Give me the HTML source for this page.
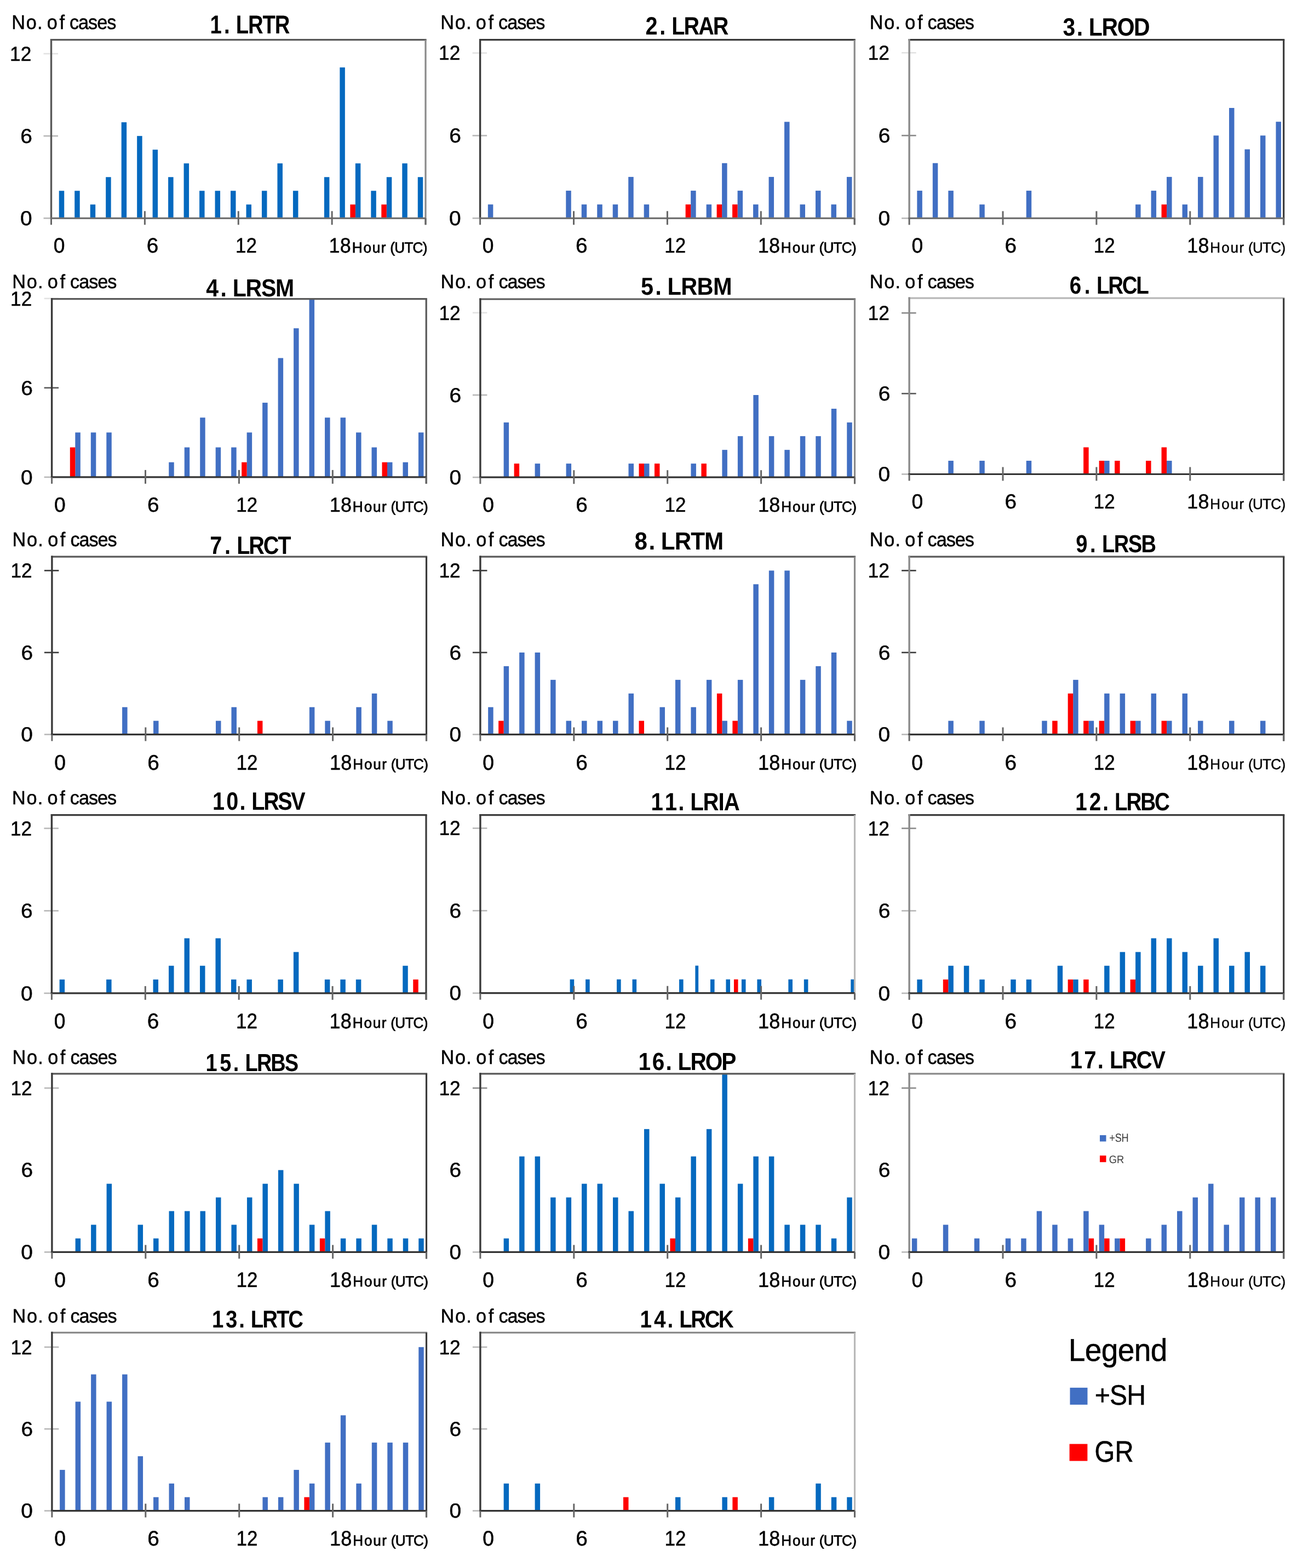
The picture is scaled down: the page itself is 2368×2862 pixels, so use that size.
<!DOCTYPE html>
<html><head><meta charset="utf-8"><title>Hourly distribution of cases</title><style>html,body{margin:0;padding:0;background:#fff;}svg{display:block;}</style></head>
<body>
<svg width="2368" height="2862" viewBox="0 0 2368 2862" text-rendering="geometricPrecision" font-family="'Liberation Sans', sans-serif">
<rect width="2368" height="2862" fill="#fff"/>
<g id="p1"><rect x="107.74" y="348.26" width="9.49" height="50.04" fill="#0569BF"/>
<rect x="136.22" y="348.26" width="9.49" height="50.04" fill="#0569BF"/>
<rect x="164.70" y="373.28" width="9.49" height="25.02" fill="#0569BF"/>
<rect x="193.18" y="323.24" width="9.49" height="75.06" fill="#0569BF"/>
<rect x="221.66" y="223.16" width="9.49" height="175.14" fill="#0569BF"/>
<rect x="250.14" y="248.18" width="9.49" height="150.12" fill="#0569BF"/>
<rect x="278.61" y="273.20" width="9.49" height="125.10" fill="#0569BF"/>
<rect x="307.09" y="323.24" width="9.49" height="75.06" fill="#0569BF"/>
<rect x="335.57" y="298.22" width="9.49" height="100.08" fill="#0569BF"/>
<rect x="364.05" y="348.26" width="9.49" height="50.04" fill="#0569BF"/>
<rect x="392.53" y="348.26" width="9.49" height="50.04" fill="#0569BF"/>
<rect x="421.01" y="348.26" width="9.49" height="50.04" fill="#0569BF"/>
<rect x="449.49" y="373.28" width="9.49" height="25.02" fill="#0569BF"/>
<rect x="477.97" y="348.26" width="9.49" height="50.04" fill="#0569BF"/>
<rect x="506.45" y="298.22" width="9.49" height="100.08" fill="#0569BF"/>
<rect x="534.93" y="348.26" width="9.49" height="50.04" fill="#0569BF"/>
<rect x="591.89" y="323.24" width="9.49" height="75.06" fill="#0569BF"/>
<rect x="620.36" y="123.08" width="9.49" height="275.22" fill="#0569BF"/>
<rect x="648.84" y="298.22" width="9.49" height="100.08" fill="#0569BF"/>
<rect x="677.32" y="348.26" width="9.49" height="50.04" fill="#0569BF"/>
<rect x="705.80" y="323.24" width="9.49" height="75.06" fill="#0569BF"/>
<rect x="734.28" y="298.22" width="9.49" height="100.08" fill="#0569BF"/>
<rect x="762.76" y="323.24" width="9.49" height="75.06" fill="#0569BF"/>
<rect x="639.35" y="373.28" width="9.49" height="25.02" fill="#FF0000"/>
<rect x="696.31" y="373.28" width="9.49" height="25.02" fill="#FF0000"/>
<line x1="79.50" y1="248.18" x2="106.00" y2="248.18" stroke="#b8b8b8" stroke-width="2.6"/>
<line x1="79.50" y1="98.06" x2="106.00" y2="98.06" stroke="#e2e2e2" stroke-width="2.6"/>
<line x1="79.50" y1="398.30" x2="93.50" y2="398.30" stroke="#b8b8b8" stroke-width="2.6"/>
<line x1="91.90" y1="72.70" x2="778.60" y2="72.70" stroke="#595959" stroke-width="3.2"/>
<line x1="777.00" y1="72.70" x2="777.00" y2="410.30" stroke="#8a8a8a" stroke-width="3.2"/>
<line x1="93.50" y1="71.10" x2="93.50" y2="398.30" stroke="#595959" stroke-width="3.4"/>
<line x1="91.80" y1="398.30" x2="777.00" y2="398.30" stroke="#727272" stroke-width="3.2"/>
<line x1="93.50" y1="398.30" x2="93.50" y2="410.30" stroke="#666" stroke-width="3"/>
<line x1="264.38" y1="385.30" x2="264.38" y2="410.30" stroke="#666" stroke-width="3"/>
<line x1="435.25" y1="385.30" x2="435.25" y2="410.30" stroke="#666" stroke-width="3"/>
<line x1="606.12" y1="385.30" x2="606.12" y2="410.30" stroke="#666" stroke-width="3"/>
<line x1="777.00" y1="398.30" x2="777.00" y2="410.30" stroke="#666" stroke-width="3"/>
<text transform="scale(0.94599,1)" x="22.40 50.43 71.79 81.85 90.63 114.65 124.70 134.24 151.22 170.31 187.32 206.36" y="53.30" font-size="36.19" font-weight="normal" fill="#000" stroke="#000" stroke-width="0.529">No. of cases</text>
<text transform="scale(0.81389,1)" x="471.17 502.58 515.67 529.24 556.55 589.16 616.43" y="60.60" font-size="47.09" font-weight="bold" fill="#000">1. LRTR</text>
<text transform="scale(0.95507,1)" x="18.86 39.43" y="110.76" font-size="36.92" font-weight="normal" fill="#000" stroke="#000" stroke-width="0.524">12</text>
<text transform="scale(1.05662,1)" x="35.22" y="260.88" font-size="36.92" font-weight="normal" fill="#000" stroke="#000" stroke-width="0.473">6</text>
<text transform="scale(1.05392,1)" x="35.09" y="411.00" font-size="36.92" font-weight="normal" fill="#000" stroke="#000" stroke-width="0.474">0</text>
<text transform="scale(0.97779,1)" x="100.01" y="461.20" font-size="38.08" font-weight="normal" fill="#000" stroke="#000" stroke-width="0.511">0</text>
<text transform="scale(1.01866,1)" x="262.94" y="461.20" font-size="38.08" font-weight="normal" fill="#000" stroke="#000" stroke-width="0.491">6</text>
<text transform="scale(0.91793,1)" x="468.48 489.70" y="461.20" font-size="38.08" font-weight="normal" fill="#000" stroke="#000" stroke-width="0.545">12</text>
<text transform="scale(0.94673,1)" x="634.41 655.71" y="461.20" font-size="38.08" font-weight="normal" fill="#000" stroke="#000" stroke-width="0.528">18</text>
<text transform="scale(0.97705,1)" x="657.75 679.13 695.80 712.20 721.11 729.00 737.28 755.76 771.25 789.95" y="461.30" font-size="26.74" font-weight="normal" fill="#000" stroke="#000" stroke-width="0.768">Hour (UTC)</text></g>
<g id="p2"><rect x="890.84" y="373.17" width="9.49" height="25.13" fill="#416FC3"/>
<rect x="1033.26" y="348.04" width="9.49" height="50.26" fill="#416FC3"/>
<rect x="1061.74" y="373.17" width="9.49" height="25.13" fill="#416FC3"/>
<rect x="1090.22" y="373.17" width="9.49" height="25.13" fill="#416FC3"/>
<rect x="1118.71" y="373.17" width="9.49" height="25.13" fill="#416FC3"/>
<rect x="1147.19" y="322.91" width="9.49" height="75.39" fill="#416FC3"/>
<rect x="1175.67" y="373.17" width="9.49" height="25.13" fill="#416FC3"/>
<rect x="1261.12" y="348.04" width="9.49" height="50.26" fill="#416FC3"/>
<rect x="1289.61" y="373.17" width="9.49" height="25.13" fill="#416FC3"/>
<rect x="1318.09" y="297.78" width="9.49" height="100.52" fill="#416FC3"/>
<rect x="1346.58" y="348.04" width="9.49" height="50.26" fill="#416FC3"/>
<rect x="1375.06" y="373.17" width="9.49" height="25.13" fill="#416FC3"/>
<rect x="1403.54" y="322.91" width="9.49" height="75.39" fill="#416FC3"/>
<rect x="1432.03" y="222.39" width="9.49" height="175.91" fill="#416FC3"/>
<rect x="1460.51" y="373.17" width="9.49" height="25.13" fill="#416FC3"/>
<rect x="1488.99" y="348.04" width="9.49" height="50.26" fill="#416FC3"/>
<rect x="1517.47" y="373.17" width="9.49" height="25.13" fill="#416FC3"/>
<rect x="1545.96" y="322.91" width="9.49" height="75.39" fill="#416FC3"/>
<rect x="1251.63" y="373.17" width="9.49" height="25.13" fill="#FF0000"/>
<rect x="1308.60" y="373.17" width="9.49" height="25.13" fill="#FF0000"/>
<rect x="1337.08" y="373.17" width="9.49" height="25.13" fill="#FF0000"/>
<line x1="862.60" y1="247.52" x2="889.10" y2="247.52" stroke="#b8b8b8" stroke-width="2.6"/>
<line x1="862.60" y1="96.74" x2="889.10" y2="96.74" stroke="#e2e2e2" stroke-width="2.6"/>
<line x1="862.60" y1="398.30" x2="876.60" y2="398.30" stroke="#b8b8b8" stroke-width="2.6"/>
<line x1="875.00" y1="72.70" x2="1561.80" y2="72.70" stroke="#3a3a3a" stroke-width="3.2"/>
<line x1="1560.20" y1="72.70" x2="1560.20" y2="410.30" stroke="#8a8a8a" stroke-width="3.2"/>
<line x1="876.60" y1="71.10" x2="876.60" y2="398.30" stroke="#3a3a3a" stroke-width="3.4"/>
<line x1="874.90" y1="398.30" x2="1560.20" y2="398.30" stroke="#727272" stroke-width="3.2"/>
<line x1="876.60" y1="398.30" x2="876.60" y2="410.30" stroke="#666" stroke-width="3"/>
<line x1="1047.50" y1="385.30" x2="1047.50" y2="410.30" stroke="#666" stroke-width="3"/>
<line x1="1218.40" y1="385.30" x2="1218.40" y2="410.30" stroke="#666" stroke-width="3"/>
<line x1="1389.30" y1="385.30" x2="1389.30" y2="410.30" stroke="#666" stroke-width="3"/>
<line x1="1560.20" y1="398.30" x2="1560.20" y2="410.30" stroke="#666" stroke-width="3"/>
<text transform="scale(0.94599,1)" x="850.21 878.24 899.60 909.66 918.43 942.45 952.51 962.04 979.03 998.12 1015.12 1034.17" y="53.30" font-size="36.19" font-weight="normal" fill="#000" stroke="#000" stroke-width="0.529">No. of cases</text>
<text transform="scale(0.86563,1)" x="1361.46 1391.31 1404.04 1416.59 1442.35 1473.13 1503.74" y="63.40" font-size="45.79" font-weight="bold" fill="#000">2. LRAR</text>
<text transform="scale(0.95507,1)" x="838.80 859.37" y="109.44" font-size="36.92" font-weight="normal" fill="#000" stroke="#000" stroke-width="0.524">12</text>
<text transform="scale(1.05662,1)" x="776.36" y="260.22" font-size="36.92" font-weight="normal" fill="#000" stroke="#000" stroke-width="0.473">6</text>
<text transform="scale(1.05392,1)" x="778.12" y="411.00" font-size="36.92" font-weight="normal" fill="#000" stroke="#000" stroke-width="0.474">0</text>
<text transform="scale(0.97779,1)" x="900.89" y="461.20" font-size="38.08" font-weight="normal" fill="#000" stroke="#000" stroke-width="0.511">0</text>
<text transform="scale(1.01866,1)" x="1031.72" y="461.20" font-size="38.08" font-weight="normal" fill="#000" stroke="#000" stroke-width="0.491">6</text>
<text transform="scale(0.91793,1)" x="1321.65 1342.87" y="461.20" font-size="38.08" font-weight="normal" fill="#000" stroke="#000" stroke-width="0.545">12</text>
<text transform="scale(0.94673,1)" x="1461.66 1482.96" y="461.20" font-size="38.08" font-weight="normal" fill="#000" stroke="#000" stroke-width="0.528">18</text>
<text transform="scale(0.97705,1)" x="1459.34 1480.73 1497.40 1513.79 1522.70 1530.59 1538.87 1557.35 1572.84 1591.54" y="461.30" font-size="26.74" font-weight="normal" fill="#000" stroke="#000" stroke-width="0.768">Hour (UTC)</text></g>
<g id="p3"><rect x="1674.34" y="348.06" width="9.49" height="50.34" fill="#416FC3"/>
<rect x="1702.82" y="297.72" width="9.49" height="100.68" fill="#416FC3"/>
<rect x="1731.31" y="348.06" width="9.49" height="50.34" fill="#416FC3"/>
<rect x="1788.27" y="373.23" width="9.49" height="25.17" fill="#416FC3"/>
<rect x="1873.72" y="348.06" width="9.49" height="50.34" fill="#416FC3"/>
<rect x="2073.11" y="373.23" width="9.49" height="25.17" fill="#416FC3"/>
<rect x="2101.59" y="348.06" width="9.49" height="50.34" fill="#416FC3"/>
<rect x="2130.07" y="322.89" width="9.49" height="75.51" fill="#416FC3"/>
<rect x="2158.56" y="373.23" width="9.49" height="25.17" fill="#416FC3"/>
<rect x="2187.04" y="322.89" width="9.49" height="75.51" fill="#416FC3"/>
<rect x="2215.52" y="247.38" width="9.49" height="151.02" fill="#416FC3"/>
<rect x="2244.01" y="197.04" width="9.49" height="201.36" fill="#416FC3"/>
<rect x="2272.49" y="272.55" width="9.49" height="125.85" fill="#416FC3"/>
<rect x="2300.97" y="247.38" width="9.49" height="151.02" fill="#416FC3"/>
<rect x="2329.46" y="222.21" width="9.49" height="176.19" fill="#416FC3"/>
<rect x="2120.58" y="373.23" width="9.49" height="25.17" fill="#FF0000"/>
<line x1="1646.10" y1="247.38" x2="1672.60" y2="247.38" stroke="#8a8a8a" stroke-width="2.6"/>
<line x1="1646.10" y1="96.36" x2="1672.60" y2="96.36" stroke="#e2e2e2" stroke-width="2.6"/>
<line x1="1646.10" y1="398.40" x2="1660.10" y2="398.40" stroke="#b8b8b8" stroke-width="2.6"/>
<line x1="1658.50" y1="72.70" x2="2345.30" y2="72.70" stroke="#3a3a3a" stroke-width="3.2"/>
<line x1="2343.70" y1="72.70" x2="2343.70" y2="410.40" stroke="#3a3a3a" stroke-width="3.2"/>
<line x1="1660.10" y1="71.10" x2="1660.10" y2="398.40" stroke="#8a8a8a" stroke-width="3.4"/>
<line x1="1658.40" y1="398.40" x2="2343.70" y2="398.40" stroke="#727272" stroke-width="3.2"/>
<line x1="1660.10" y1="398.40" x2="1660.10" y2="410.40" stroke="#666" stroke-width="3"/>
<line x1="1831.00" y1="385.40" x2="1831.00" y2="410.40" stroke="#666" stroke-width="3"/>
<line x1="2001.90" y1="385.40" x2="2001.90" y2="410.40" stroke="#666" stroke-width="3"/>
<line x1="2172.80" y1="385.40" x2="2172.80" y2="410.40" stroke="#666" stroke-width="3"/>
<line x1="2343.70" y1="398.40" x2="2343.70" y2="410.40" stroke="#666" stroke-width="3"/>
<text transform="scale(0.94599,1)" x="1678.44 1706.47 1727.83 1737.89 1746.66 1770.68 1780.74 1790.27 1807.26 1826.35 1843.35 1862.40" y="53.30" font-size="36.19" font-weight="normal" fill="#000" stroke="#000" stroke-width="0.529">No. of cases</text>
<text transform="scale(0.89558,1)" x="2166.70 2194.83 2207.55 2219.60 2246.05 2277.47 2311.36" y="64.50" font-size="45.79" font-weight="bold" fill="#000">3. LROD</text>
<text transform="scale(0.95507,1)" x="1659.15 1679.73" y="109.06" font-size="36.92" font-weight="normal" fill="#000" stroke="#000" stroke-width="0.524">12</text>
<text transform="scale(1.05662,1)" x="1517.88" y="260.08" font-size="36.92" font-weight="normal" fill="#000" stroke="#000" stroke-width="0.473">6</text>
<text transform="scale(1.05392,1)" x="1521.54" y="411.10" font-size="36.92" font-weight="normal" fill="#000" stroke="#000" stroke-width="0.474">0</text>
<text transform="scale(0.97779,1)" x="1702.19" y="461.30" font-size="38.08" font-weight="normal" fill="#000" stroke="#000" stroke-width="0.511">0</text>
<text transform="scale(1.01866,1)" x="1800.86" y="461.30" font-size="38.08" font-weight="normal" fill="#000" stroke="#000" stroke-width="0.491">6</text>
<text transform="scale(0.91793,1)" x="2175.20 2196.42" y="461.30" font-size="38.08" font-weight="normal" fill="#000" stroke="#000" stroke-width="0.545">12</text>
<text transform="scale(0.94673,1)" x="2289.24 2310.54" y="461.30" font-size="38.08" font-weight="normal" fill="#000" stroke="#000" stroke-width="0.528">18</text>
<text transform="scale(0.97705,1)" x="2261.25 2282.63 2299.30 2315.69 2324.60 2332.50 2340.77 2359.25 2374.75 2393.44" y="461.40" font-size="26.74" font-weight="normal" fill="#000" stroke="#000" stroke-width="0.461">Hour (UTC)</text></g>
<g id="p4"><rect x="137.32" y="789.39" width="9.49" height="81.51" fill="#416FC3"/>
<rect x="165.81" y="789.39" width="9.49" height="81.51" fill="#416FC3"/>
<rect x="194.29" y="789.39" width="9.49" height="81.51" fill="#416FC3"/>
<rect x="308.23" y="843.73" width="9.49" height="27.17" fill="#416FC3"/>
<rect x="336.71" y="816.56" width="9.49" height="54.34" fill="#416FC3"/>
<rect x="365.19" y="762.22" width="9.49" height="108.68" fill="#416FC3"/>
<rect x="393.67" y="816.56" width="9.49" height="54.34" fill="#416FC3"/>
<rect x="422.16" y="816.56" width="9.49" height="54.34" fill="#416FC3"/>
<rect x="450.64" y="789.39" width="9.49" height="81.51" fill="#416FC3"/>
<rect x="479.12" y="735.05" width="9.49" height="135.85" fill="#416FC3"/>
<rect x="507.61" y="653.54" width="9.49" height="217.36" fill="#416FC3"/>
<rect x="536.09" y="599.20" width="9.49" height="271.70" fill="#416FC3"/>
<rect x="564.58" y="544.86" width="9.49" height="326.04" fill="#416FC3"/>
<rect x="593.06" y="762.22" width="9.49" height="108.68" fill="#416FC3"/>
<rect x="621.54" y="762.22" width="9.49" height="108.68" fill="#416FC3"/>
<rect x="650.03" y="789.39" width="9.49" height="81.51" fill="#416FC3"/>
<rect x="678.51" y="816.56" width="9.49" height="54.34" fill="#416FC3"/>
<rect x="706.99" y="843.73" width="9.49" height="27.17" fill="#416FC3"/>
<rect x="735.48" y="843.73" width="9.49" height="27.17" fill="#416FC3"/>
<rect x="763.96" y="789.39" width="9.49" height="81.51" fill="#416FC3"/>
<rect x="127.83" y="816.56" width="9.49" height="54.34" fill="#FF0000"/>
<rect x="441.15" y="843.73" width="9.49" height="27.17" fill="#FF0000"/>
<rect x="697.50" y="843.73" width="9.49" height="27.17" fill="#FF0000"/>
<line x1="80.60" y1="707.88" x2="107.10" y2="707.88" stroke="#595959" stroke-width="2.6"/>
<line x1="80.60" y1="544.86" x2="107.10" y2="544.86" stroke="#e2e2e2" stroke-width="2.6"/>
<line x1="80.60" y1="870.90" x2="94.60" y2="870.90" stroke="#b8b8b8" stroke-width="2.6"/>
<line x1="93.00" y1="545.60" x2="779.80" y2="545.60" stroke="#595959" stroke-width="3.2"/>
<line x1="778.20" y1="545.60" x2="778.20" y2="882.90" stroke="#595959" stroke-width="3.2"/>
<line x1="94.60" y1="544.00" x2="94.60" y2="870.90" stroke="#3a3a3a" stroke-width="3.4"/>
<line x1="92.90" y1="870.90" x2="778.20" y2="870.90" stroke="#333333" stroke-width="3.2"/>
<line x1="94.60" y1="870.90" x2="94.60" y2="882.90" stroke="#666" stroke-width="3"/>
<line x1="265.50" y1="857.90" x2="265.50" y2="882.90" stroke="#666" stroke-width="3"/>
<line x1="436.40" y1="857.90" x2="436.40" y2="882.90" stroke="#666" stroke-width="3"/>
<line x1="607.30" y1="857.90" x2="607.30" y2="882.90" stroke="#666" stroke-width="3"/>
<line x1="778.20" y1="870.90" x2="778.20" y2="882.90" stroke="#666" stroke-width="3"/>
<text transform="scale(0.97336,1)" x="22.90 50.14 70.90 80.68 89.21 112.55 122.33 131.59 148.10 166.65 183.18 201.69" y="526.30" font-size="35.18" font-weight="normal" fill="#000" stroke="#000" stroke-width="0.514">No. of cases</text>
<text transform="scale(0.90690,1)" x="414.80 443.80 456.36 468.26 494.61 526.00 554.74" y="541.00" font-size="45.20" font-weight="bold" fill="#000">4. LRSM</text>
<text transform="scale(0.95507,1)" x="20.01 40.59" y="557.56" font-size="36.92" font-weight="normal" fill="#000" stroke="#000" stroke-width="0.524">12</text>
<text transform="scale(1.05662,1)" x="36.27" y="720.58" font-size="36.92" font-weight="normal" fill="#000" stroke="#000" stroke-width="0.473">6</text>
<text transform="scale(1.05392,1)" x="36.13" y="883.60" font-size="36.92" font-weight="normal" fill="#000" stroke="#000" stroke-width="0.474">0</text>
<text transform="scale(1.00071,1)" x="98.82" y="933.80" font-size="37.21" font-weight="normal" fill="#000" stroke="#000" stroke-width="0.500">0</text>
<text transform="scale(1.04254,1)" x="258.00" y="933.80" font-size="37.21" font-weight="normal" fill="#000" stroke="#000" stroke-width="0.480">6</text>
<text transform="scale(0.93944,1)" x="458.97 479.71" y="933.80" font-size="37.21" font-weight="normal" fill="#000" stroke="#000" stroke-width="0.532">12</text>
<text transform="scale(0.96892,1)" x="621.10 641.91" y="933.80" font-size="37.21" font-weight="normal" fill="#000" stroke="#000" stroke-width="0.516">18</text>
<text transform="scale(0.97705,1)" x="658.98 680.36 697.03 713.43 722.33 730.23 738.51 756.99 772.48 791.17" y="933.90" font-size="26.74" font-weight="normal" fill="#000" stroke="#000" stroke-width="0.768">Hour (UTC)</text></g>
<g id="p5"><rect x="919.62" y="771.08" width="9.49" height="100.12" fill="#416FC3"/>
<rect x="976.59" y="846.17" width="9.49" height="25.03" fill="#416FC3"/>
<rect x="1033.56" y="846.17" width="9.49" height="25.03" fill="#416FC3"/>
<rect x="1147.49" y="846.17" width="9.49" height="25.03" fill="#416FC3"/>
<rect x="1175.97" y="846.17" width="9.49" height="25.03" fill="#416FC3"/>
<rect x="1261.42" y="846.17" width="9.49" height="25.03" fill="#416FC3"/>
<rect x="1318.39" y="821.14" width="9.49" height="50.06" fill="#416FC3"/>
<rect x="1346.88" y="796.11" width="9.49" height="75.09" fill="#416FC3"/>
<rect x="1375.36" y="721.02" width="9.49" height="150.18" fill="#416FC3"/>
<rect x="1403.84" y="796.11" width="9.49" height="75.09" fill="#416FC3"/>
<rect x="1432.33" y="821.14" width="9.49" height="50.06" fill="#416FC3"/>
<rect x="1460.81" y="796.11" width="9.49" height="75.09" fill="#416FC3"/>
<rect x="1489.29" y="796.11" width="9.49" height="75.09" fill="#416FC3"/>
<rect x="1517.78" y="746.05" width="9.49" height="125.15" fill="#416FC3"/>
<rect x="1546.26" y="771.08" width="9.49" height="100.12" fill="#416FC3"/>
<rect x="938.61" y="846.17" width="9.49" height="25.03" fill="#FF0000"/>
<rect x="1166.48" y="846.17" width="9.49" height="25.03" fill="#FF0000"/>
<rect x="1194.96" y="846.17" width="9.49" height="25.03" fill="#FF0000"/>
<rect x="1280.41" y="846.17" width="9.49" height="25.03" fill="#FF0000"/>
<line x1="862.90" y1="721.02" x2="889.40" y2="721.02" stroke="#b8b8b8" stroke-width="2.6"/>
<line x1="862.90" y1="570.84" x2="889.40" y2="570.84" stroke="#e2e2e2" stroke-width="2.6"/>
<line x1="862.90" y1="871.20" x2="876.90" y2="871.20" stroke="#b8b8b8" stroke-width="2.6"/>
<line x1="875.30" y1="546.00" x2="1562.10" y2="546.00" stroke="#595959" stroke-width="3.2"/>
<line x1="1560.50" y1="546.00" x2="1560.50" y2="883.20" stroke="#8a8a8a" stroke-width="3.2"/>
<line x1="876.90" y1="544.40" x2="876.90" y2="871.20" stroke="#3a3a3a" stroke-width="3.4"/>
<line x1="875.20" y1="871.20" x2="1560.50" y2="871.20" stroke="#333333" stroke-width="3.2"/>
<line x1="876.90" y1="871.20" x2="876.90" y2="883.20" stroke="#666" stroke-width="3"/>
<line x1="1047.80" y1="858.20" x2="1047.80" y2="883.20" stroke="#666" stroke-width="3"/>
<line x1="1218.70" y1="858.20" x2="1218.70" y2="883.20" stroke="#666" stroke-width="3"/>
<line x1="1389.60" y1="858.20" x2="1389.60" y2="883.20" stroke="#666" stroke-width="3"/>
<line x1="1560.50" y1="871.20" x2="1560.50" y2="883.20" stroke="#666" stroke-width="3"/>
<text transform="scale(0.97336,1)" x="826.62 853.86 874.62 884.39 892.92 916.27 926.04 935.31 951.81 970.37 986.89 1005.41" y="526.30" font-size="35.18" font-weight="normal" fill="#000" stroke="#000" stroke-width="0.514">No. of cases</text>
<text transform="scale(0.92782,1)" x="1261.15 1289.28 1301.72 1313.42 1340.06 1371.64 1403.16" y="538.00" font-size="44.77" font-weight="bold" fill="#000">5. LRBM</text>
<text transform="scale(0.95507,1)" x="839.11 859.69" y="583.54" font-size="36.92" font-weight="normal" fill="#000" stroke="#000" stroke-width="0.524">12</text>
<text transform="scale(1.05662,1)" x="776.65" y="733.72" font-size="36.92" font-weight="normal" fill="#000" stroke="#000" stroke-width="0.473">6</text>
<text transform="scale(1.05392,1)" x="778.41" y="883.90" font-size="36.92" font-weight="normal" fill="#000" stroke="#000" stroke-width="0.474">0</text>
<text transform="scale(1.00071,1)" x="880.56" y="934.10" font-size="37.21" font-weight="normal" fill="#000" stroke="#000" stroke-width="0.500">0</text>
<text transform="scale(1.04254,1)" x="1008.38" y="934.10" font-size="37.21" font-weight="normal" fill="#000" stroke="#000" stroke-width="0.480">6</text>
<text transform="scale(0.93944,1)" x="1291.70 1312.44" y="934.10" font-size="37.21" font-weight="normal" fill="#000" stroke="#000" stroke-width="0.532">12</text>
<text transform="scale(0.96892,1)" x="1428.50 1449.30" y="934.10" font-size="37.21" font-weight="normal" fill="#000" stroke="#000" stroke-width="0.516">18</text>
<text transform="scale(0.97705,1)" x="1459.65 1481.03 1497.70 1514.10 1523.01 1530.90 1539.18 1557.66 1573.15 1591.85" y="934.20" font-size="26.74" font-weight="normal" fill="#000" stroke="#000" stroke-width="0.768">Hour (UTC)</text></g>
<g id="p6"><rect x="1731.31" y="840.98" width="9.49" height="24.52" fill="#416FC3"/>
<rect x="1788.27" y="840.98" width="9.49" height="24.52" fill="#416FC3"/>
<rect x="1873.72" y="840.98" width="9.49" height="24.52" fill="#416FC3"/>
<rect x="2016.14" y="840.98" width="9.49" height="24.52" fill="#416FC3"/>
<rect x="2130.07" y="840.98" width="9.49" height="24.52" fill="#416FC3"/>
<rect x="1978.16" y="816.46" width="9.49" height="49.04" fill="#FF0000"/>
<rect x="2006.65" y="840.98" width="9.49" height="24.52" fill="#FF0000"/>
<rect x="2035.13" y="840.98" width="9.49" height="24.52" fill="#FF0000"/>
<rect x="2092.10" y="840.98" width="9.49" height="24.52" fill="#FF0000"/>
<rect x="2120.58" y="816.46" width="9.49" height="49.04" fill="#FF0000"/>
<line x1="1646.10" y1="718.38" x2="1672.60" y2="718.38" stroke="#595959" stroke-width="2.6"/>
<line x1="1646.10" y1="571.26" x2="1672.60" y2="571.26" stroke="#8a8a8a" stroke-width="2.6"/>
<line x1="1646.10" y1="865.50" x2="1660.10" y2="865.50" stroke="#b8b8b8" stroke-width="2.6"/>
<line x1="1658.50" y1="544.20" x2="2345.30" y2="544.20" stroke="#b8b8b8" stroke-width="3.2"/>
<line x1="2343.70" y1="544.20" x2="2343.70" y2="877.50" stroke="#3a3a3a" stroke-width="3.2"/>
<line x1="1660.10" y1="542.60" x2="1660.10" y2="865.50" stroke="#8a8a8a" stroke-width="3.4"/>
<line x1="1658.40" y1="865.50" x2="2343.70" y2="865.50" stroke="#333333" stroke-width="3.2"/>
<line x1="1660.10" y1="865.50" x2="1660.10" y2="877.50" stroke="#666" stroke-width="3"/>
<line x1="1831.00" y1="852.50" x2="1831.00" y2="877.50" stroke="#666" stroke-width="3"/>
<line x1="2001.90" y1="852.50" x2="2001.90" y2="877.50" stroke="#666" stroke-width="3"/>
<line x1="2172.80" y1="852.50" x2="2172.80" y2="877.50" stroke="#666" stroke-width="3"/>
<line x1="2343.70" y1="865.50" x2="2343.70" y2="877.50" stroke="#666" stroke-width="3"/>
<text transform="scale(0.97336,1)" x="1631.25 1658.49 1679.26 1689.03 1697.56 1720.91 1730.68 1739.94 1756.45 1775.01 1791.53 1810.04" y="526.30" font-size="35.18" font-weight="normal" fill="#000" stroke="#000" stroke-width="0.514">No. of cases</text>
<text transform="scale(0.85868,1)" x="2274.06 2305.53 2318.05 2331.38 2356.21 2385.93 2415.76" y="535.90" font-size="45.06" font-weight="bold" fill="#000">6. LRCL</text>
<text transform="scale(0.95507,1)" x="1659.15 1679.73" y="583.96" font-size="36.92" font-weight="normal" fill="#000" stroke="#000" stroke-width="0.524">12</text>
<text transform="scale(1.05662,1)" x="1517.88" y="731.08" font-size="36.92" font-weight="normal" fill="#000" stroke="#000" stroke-width="0.473">6</text>
<text transform="scale(1.05392,1)" x="1521.54" y="878.20" font-size="36.92" font-weight="normal" fill="#000" stroke="#000" stroke-width="0.474">0</text>
<text transform="scale(1.00071,1)" x="1663.21" y="928.40" font-size="37.21" font-weight="normal" fill="#000" stroke="#000" stroke-width="0.500">0</text>
<text transform="scale(1.04254,1)" x="1759.62" y="928.40" font-size="37.21" font-weight="normal" fill="#000" stroke="#000" stroke-width="0.480">6</text>
<text transform="scale(0.93944,1)" x="2125.39 2146.12" y="928.40" font-size="37.21" font-weight="normal" fill="#000" stroke="#000" stroke-width="0.532">12</text>
<text transform="scale(0.96892,1)" x="2236.82 2257.63" y="928.40" font-size="37.21" font-weight="normal" fill="#000" stroke="#000" stroke-width="0.516">18</text>
<text transform="scale(0.97705,1)" x="2261.25 2282.63 2299.30 2315.69 2324.60 2332.50 2340.77 2359.25 2374.75 2393.44" y="928.50" font-size="26.74" font-weight="normal" fill="#000" stroke="#000" stroke-width="0.461">Hour (UTC)</text></g>
<g id="p7"><rect x="223.08" y="1290.74" width="9.49" height="49.86" fill="#416FC3"/>
<rect x="280.04" y="1315.67" width="9.49" height="24.93" fill="#416FC3"/>
<rect x="393.98" y="1315.67" width="9.49" height="24.93" fill="#416FC3"/>
<rect x="422.46" y="1290.74" width="9.49" height="49.86" fill="#416FC3"/>
<rect x="564.88" y="1290.74" width="9.49" height="49.86" fill="#416FC3"/>
<rect x="593.36" y="1315.67" width="9.49" height="24.93" fill="#416FC3"/>
<rect x="650.33" y="1290.74" width="9.49" height="49.86" fill="#416FC3"/>
<rect x="678.81" y="1265.81" width="9.49" height="74.79" fill="#416FC3"/>
<rect x="707.29" y="1315.67" width="9.49" height="24.93" fill="#416FC3"/>
<rect x="469.93" y="1315.67" width="9.49" height="24.93" fill="#FF0000"/>
<line x1="80.90" y1="1191.02" x2="107.40" y2="1191.02" stroke="#3a3a3a" stroke-width="2.6"/>
<line x1="80.90" y1="1041.44" x2="107.40" y2="1041.44" stroke="#3a3a3a" stroke-width="2.6"/>
<line x1="80.90" y1="1340.60" x2="94.90" y2="1340.60" stroke="#b8b8b8" stroke-width="2.6"/>
<line x1="93.30" y1="1016.20" x2="780.10" y2="1016.20" stroke="#595959" stroke-width="3.2"/>
<line x1="778.50" y1="1016.20" x2="778.50" y2="1352.60" stroke="#3a3a3a" stroke-width="3.2"/>
<line x1="94.90" y1="1014.60" x2="94.90" y2="1340.60" stroke="#3a3a3a" stroke-width="3.4"/>
<line x1="93.20" y1="1340.60" x2="778.50" y2="1340.60" stroke="#333333" stroke-width="3.2"/>
<line x1="94.90" y1="1340.60" x2="94.90" y2="1352.60" stroke="#666" stroke-width="3"/>
<line x1="265.80" y1="1327.60" x2="265.80" y2="1352.60" stroke="#666" stroke-width="3"/>
<line x1="436.70" y1="1327.60" x2="436.70" y2="1352.60" stroke="#666" stroke-width="3"/>
<line x1="607.60" y1="1327.60" x2="607.60" y2="1352.60" stroke="#666" stroke-width="3"/>
<line x1="778.50" y1="1340.60" x2="778.50" y2="1352.60" stroke="#666" stroke-width="3"/>
<text transform="scale(0.94599,1)" x="23.88 51.91 73.27 83.33 92.11 116.13 126.18 135.72 152.70 171.79 188.79 207.84" y="997.00" font-size="36.19" font-weight="normal" fill="#000" stroke="#000" stroke-width="0.529">No. of cases</text>
<text transform="scale(0.86695,1)" x="442.00 472.80 485.52 498.54 523.99 554.42 585.02" y="1011.00" font-size="45.79" font-weight="bold" fill="#000">7. LRCT</text>
<text transform="scale(0.95507,1)" x="20.33 40.90" y="1054.14" font-size="36.92" font-weight="normal" fill="#000" stroke="#000" stroke-width="0.524">12</text>
<text transform="scale(1.05662,1)" x="36.55" y="1203.72" font-size="36.92" font-weight="normal" fill="#000" stroke="#000" stroke-width="0.473">6</text>
<text transform="scale(1.05392,1)" x="36.42" y="1353.30" font-size="36.92" font-weight="normal" fill="#000" stroke="#000" stroke-width="0.474">0</text>
<text transform="scale(0.95948,1)" x="103.38" y="1405.20" font-size="38.81" font-weight="normal" fill="#000" stroke="#000" stroke-width="0.521">0</text>
<text transform="scale(0.99959,1)" x="269.38" y="1405.20" font-size="38.81" font-weight="normal" fill="#000" stroke="#000" stroke-width="0.500">6</text>
<text transform="scale(0.90074,1)" x="479.03 500.65" y="1405.20" font-size="38.81" font-weight="normal" fill="#000" stroke="#000" stroke-width="0.555">12</text>
<text transform="scale(0.92900,1)" x="648.11 669.81" y="1405.20" font-size="38.81" font-weight="normal" fill="#000" stroke="#000" stroke-width="0.538">18</text>
<text transform="scale(0.97705,1)" x="659.29 680.67 697.34 713.73 722.64 730.53 738.81 757.29 772.79 791.48" y="1403.60" font-size="26.74" font-weight="normal" fill="#000" stroke="#000" stroke-width="0.768">Hour (UTC)</text></g>
<g id="p8"><rect x="891.14" y="1290.74" width="9.49" height="49.86" fill="#416FC3"/>
<rect x="919.62" y="1215.95" width="9.49" height="124.65" fill="#416FC3"/>
<rect x="948.11" y="1191.02" width="9.49" height="149.58" fill="#416FC3"/>
<rect x="976.59" y="1191.02" width="9.49" height="149.58" fill="#416FC3"/>
<rect x="1005.08" y="1240.88" width="9.49" height="99.72" fill="#416FC3"/>
<rect x="1033.56" y="1315.67" width="9.49" height="24.93" fill="#416FC3"/>
<rect x="1062.04" y="1315.67" width="9.49" height="24.93" fill="#416FC3"/>
<rect x="1090.53" y="1315.67" width="9.49" height="24.93" fill="#416FC3"/>
<rect x="1119.01" y="1315.67" width="9.49" height="24.93" fill="#416FC3"/>
<rect x="1147.49" y="1265.81" width="9.49" height="74.79" fill="#416FC3"/>
<rect x="1204.46" y="1290.74" width="9.49" height="49.86" fill="#416FC3"/>
<rect x="1232.94" y="1240.88" width="9.49" height="99.72" fill="#416FC3"/>
<rect x="1261.42" y="1290.74" width="9.49" height="49.86" fill="#416FC3"/>
<rect x="1289.91" y="1240.88" width="9.49" height="99.72" fill="#416FC3"/>
<rect x="1318.39" y="1315.67" width="9.49" height="24.93" fill="#416FC3"/>
<rect x="1346.88" y="1240.88" width="9.49" height="99.72" fill="#416FC3"/>
<rect x="1375.36" y="1066.37" width="9.49" height="274.23" fill="#416FC3"/>
<rect x="1403.84" y="1041.44" width="9.49" height="299.16" fill="#416FC3"/>
<rect x="1432.33" y="1041.44" width="9.49" height="299.16" fill="#416FC3"/>
<rect x="1460.81" y="1240.88" width="9.49" height="99.72" fill="#416FC3"/>
<rect x="1489.29" y="1215.95" width="9.49" height="124.65" fill="#416FC3"/>
<rect x="1517.78" y="1191.02" width="9.49" height="149.58" fill="#416FC3"/>
<rect x="1546.26" y="1315.67" width="9.49" height="24.93" fill="#416FC3"/>
<rect x="910.13" y="1315.67" width="9.49" height="24.93" fill="#FF0000"/>
<rect x="1166.48" y="1315.67" width="9.49" height="24.93" fill="#FF0000"/>
<rect x="1308.90" y="1265.81" width="9.49" height="74.79" fill="#FF0000"/>
<rect x="1337.38" y="1315.67" width="9.49" height="24.93" fill="#FF0000"/>
<line x1="862.90" y1="1191.02" x2="889.40" y2="1191.02" stroke="#3a3a3a" stroke-width="2.6"/>
<line x1="862.90" y1="1041.44" x2="889.40" y2="1041.44" stroke="#3a3a3a" stroke-width="2.6"/>
<line x1="862.90" y1="1340.60" x2="876.90" y2="1340.60" stroke="#b8b8b8" stroke-width="2.6"/>
<line x1="875.30" y1="1016.20" x2="1562.10" y2="1016.20" stroke="#595959" stroke-width="3.2"/>
<line x1="1560.50" y1="1016.20" x2="1560.50" y2="1352.60" stroke="#8a8a8a" stroke-width="3.2"/>
<line x1="876.90" y1="1014.60" x2="876.90" y2="1340.60" stroke="#3a3a3a" stroke-width="3.4"/>
<line x1="875.20" y1="1340.60" x2="1560.50" y2="1340.60" stroke="#333333" stroke-width="3.2"/>
<line x1="876.90" y1="1340.60" x2="876.90" y2="1352.60" stroke="#666" stroke-width="3"/>
<line x1="1047.80" y1="1327.60" x2="1047.80" y2="1352.60" stroke="#666" stroke-width="3"/>
<line x1="1218.70" y1="1327.60" x2="1218.70" y2="1352.60" stroke="#666" stroke-width="3"/>
<line x1="1389.60" y1="1327.60" x2="1389.60" y2="1352.60" stroke="#666" stroke-width="3"/>
<line x1="1560.50" y1="1340.60" x2="1560.50" y2="1352.60" stroke="#666" stroke-width="3"/>
<text transform="scale(0.94599,1)" x="850.53 878.55 899.92 909.97 918.75 942.77 952.83 962.36 979.34 998.44 1015.44 1034.49" y="997.00" font-size="36.19" font-weight="normal" fill="#000" stroke="#000" stroke-width="0.529">No. of cases</text>
<text transform="scale(0.93525,1)" x="1238.77 1266.40 1278.92 1290.38 1316.94 1348.56 1375.05" y="1002.90" font-size="45.06" font-weight="bold" fill="#000">8. LRTM</text>
<text transform="scale(0.95507,1)" x="839.11 859.69" y="1054.14" font-size="36.92" font-weight="normal" fill="#000" stroke="#000" stroke-width="0.524">12</text>
<text transform="scale(1.05662,1)" x="776.65" y="1203.72" font-size="36.92" font-weight="normal" fill="#000" stroke="#000" stroke-width="0.473">6</text>
<text transform="scale(1.05392,1)" x="778.41" y="1353.30" font-size="36.92" font-weight="normal" fill="#000" stroke="#000" stroke-width="0.474">0</text>
<text transform="scale(0.95948,1)" x="918.40" y="1405.20" font-size="38.81" font-weight="normal" fill="#000" stroke="#000" stroke-width="0.521">0</text>
<text transform="scale(0.99959,1)" x="1051.71" y="1405.20" font-size="38.81" font-weight="normal" fill="#000" stroke="#000" stroke-width="0.500">6</text>
<text transform="scale(0.90074,1)" x="1347.20 1368.83" y="1405.20" font-size="38.81" font-weight="normal" fill="#000" stroke="#000" stroke-width="0.555">12</text>
<text transform="scale(0.92900,1)" x="1489.88 1511.58" y="1405.20" font-size="38.81" font-weight="normal" fill="#000" stroke="#000" stroke-width="0.538">18</text>
<text transform="scale(0.97705,1)" x="1459.65 1481.03 1497.70 1514.10 1523.01 1530.90 1539.18 1557.66 1573.15 1591.85" y="1403.60" font-size="26.74" font-weight="normal" fill="#000" stroke="#000" stroke-width="0.768">Hour (UTC)</text></g>
<g id="p9"><rect x="1731.31" y="1315.67" width="9.49" height="24.93" fill="#416FC3"/>
<rect x="1788.27" y="1315.67" width="9.49" height="24.93" fill="#416FC3"/>
<rect x="1902.21" y="1315.67" width="9.49" height="24.93" fill="#416FC3"/>
<rect x="1959.17" y="1240.88" width="9.49" height="99.72" fill="#416FC3"/>
<rect x="1987.66" y="1315.67" width="9.49" height="24.93" fill="#416FC3"/>
<rect x="2016.14" y="1265.81" width="9.49" height="74.79" fill="#416FC3"/>
<rect x="2044.62" y="1265.81" width="9.49" height="74.79" fill="#416FC3"/>
<rect x="2073.11" y="1315.67" width="9.49" height="24.93" fill="#416FC3"/>
<rect x="2101.59" y="1265.81" width="9.49" height="74.79" fill="#416FC3"/>
<rect x="2130.07" y="1315.67" width="9.49" height="24.93" fill="#416FC3"/>
<rect x="2158.56" y="1265.81" width="9.49" height="74.79" fill="#416FC3"/>
<rect x="2187.04" y="1315.67" width="9.49" height="24.93" fill="#416FC3"/>
<rect x="2244.01" y="1315.67" width="9.49" height="24.93" fill="#416FC3"/>
<rect x="2300.97" y="1315.67" width="9.49" height="24.93" fill="#416FC3"/>
<rect x="1921.20" y="1315.67" width="9.49" height="24.93" fill="#FF0000"/>
<rect x="1949.68" y="1265.81" width="9.49" height="74.79" fill="#FF0000"/>
<rect x="1978.16" y="1315.67" width="9.49" height="24.93" fill="#FF0000"/>
<rect x="2006.65" y="1315.67" width="9.49" height="24.93" fill="#FF0000"/>
<rect x="2063.61" y="1315.67" width="9.49" height="24.93" fill="#FF0000"/>
<rect x="2120.58" y="1315.67" width="9.49" height="24.93" fill="#FF0000"/>
<line x1="1646.10" y1="1191.02" x2="1672.60" y2="1191.02" stroke="#3a3a3a" stroke-width="2.6"/>
<line x1="1646.10" y1="1041.44" x2="1672.60" y2="1041.44" stroke="#3a3a3a" stroke-width="2.6"/>
<line x1="1646.10" y1="1340.60" x2="1660.10" y2="1340.60" stroke="#b8b8b8" stroke-width="2.6"/>
<line x1="1658.50" y1="1016.20" x2="2345.30" y2="1016.20" stroke="#595959" stroke-width="3.2"/>
<line x1="2343.70" y1="1016.20" x2="2343.70" y2="1352.60" stroke="#3a3a3a" stroke-width="3.2"/>
<line x1="1660.10" y1="1014.60" x2="1660.10" y2="1340.60" stroke="#8a8a8a" stroke-width="3.4"/>
<line x1="1658.40" y1="1340.60" x2="2343.70" y2="1340.60" stroke="#333333" stroke-width="3.2"/>
<line x1="1660.10" y1="1340.60" x2="1660.10" y2="1352.60" stroke="#666" stroke-width="3"/>
<line x1="1831.00" y1="1327.60" x2="1831.00" y2="1352.60" stroke="#666" stroke-width="3"/>
<line x1="2001.90" y1="1327.60" x2="2001.90" y2="1352.60" stroke="#666" stroke-width="3"/>
<line x1="2172.80" y1="1327.60" x2="2172.80" y2="1352.60" stroke="#666" stroke-width="3"/>
<line x1="2343.70" y1="1340.60" x2="2343.70" y2="1352.60" stroke="#666" stroke-width="3"/>
<text transform="scale(0.94599,1)" x="1678.44 1706.47 1727.83 1737.89 1746.66 1770.68 1780.74 1790.27 1807.26 1826.35 1843.35 1862.40" y="997.00" font-size="36.19" font-weight="normal" fill="#000" stroke="#000" stroke-width="0.529">No. of cases</text>
<text transform="scale(0.84767,1)" x="2317.25 2347.62 2360.14 2373.57 2399.22 2429.89 2457.96" y="1007.50" font-size="45.06" font-weight="bold" fill="#000">9. LRSB</text>
<text transform="scale(0.95507,1)" x="1659.15 1679.73" y="1054.14" font-size="36.92" font-weight="normal" fill="#000" stroke="#000" stroke-width="0.524">12</text>
<text transform="scale(1.05662,1)" x="1517.88" y="1203.72" font-size="36.92" font-weight="normal" fill="#000" stroke="#000" stroke-width="0.473">6</text>
<text transform="scale(1.05392,1)" x="1521.54" y="1353.30" font-size="36.92" font-weight="normal" fill="#000" stroke="#000" stroke-width="0.474">0</text>
<text transform="scale(0.95948,1)" x="1734.67" y="1405.20" font-size="38.81" font-weight="normal" fill="#000" stroke="#000" stroke-width="0.521">0</text>
<text transform="scale(0.99959,1)" x="1835.23" y="1405.20" font-size="38.81" font-weight="normal" fill="#000" stroke="#000" stroke-width="0.500">6</text>
<text transform="scale(0.90074,1)" x="2216.71 2238.34" y="1405.20" font-size="38.81" font-weight="normal" fill="#000" stroke="#000" stroke-width="0.555">12</text>
<text transform="scale(0.92900,1)" x="2332.93 2354.64" y="1405.20" font-size="38.81" font-weight="normal" fill="#000" stroke="#000" stroke-width="0.538">18</text>
<text transform="scale(0.97705,1)" x="2261.25 2282.63 2299.30 2315.69 2324.60 2332.50 2340.77 2359.25 2374.75 2393.44" y="1403.60" font-size="26.74" font-weight="normal" fill="#000" stroke="#000" stroke-width="0.461">Hour (UTC)</text></g>
<g id="p10"><rect x="108.64" y="1787.82" width="9.49" height="25.08" fill="#0569BF"/>
<rect x="194.09" y="1787.82" width="9.49" height="25.08" fill="#0569BF"/>
<rect x="279.54" y="1787.82" width="9.49" height="25.08" fill="#0569BF"/>
<rect x="308.02" y="1762.74" width="9.49" height="50.16" fill="#0569BF"/>
<rect x="336.51" y="1712.58" width="9.49" height="100.32" fill="#0569BF"/>
<rect x="364.99" y="1762.74" width="9.49" height="50.16" fill="#0569BF"/>
<rect x="393.48" y="1712.58" width="9.49" height="100.32" fill="#0569BF"/>
<rect x="421.96" y="1787.82" width="9.49" height="25.08" fill="#0569BF"/>
<rect x="450.44" y="1787.82" width="9.49" height="25.08" fill="#0569BF"/>
<rect x="507.41" y="1787.82" width="9.49" height="25.08" fill="#0569BF"/>
<rect x="535.89" y="1737.66" width="9.49" height="75.24" fill="#0569BF"/>
<rect x="592.86" y="1787.82" width="9.49" height="25.08" fill="#0569BF"/>
<rect x="621.34" y="1787.82" width="9.49" height="25.08" fill="#0569BF"/>
<rect x="649.83" y="1787.82" width="9.49" height="25.08" fill="#0569BF"/>
<rect x="735.27" y="1762.74" width="9.49" height="50.16" fill="#0569BF"/>
<rect x="754.26" y="1787.82" width="9.49" height="25.08" fill="#FF0000"/>
<line x1="80.40" y1="1662.42" x2="106.90" y2="1662.42" stroke="#b8b8b8" stroke-width="2.6"/>
<line x1="80.40" y1="1511.94" x2="106.90" y2="1511.94" stroke="#b8b8b8" stroke-width="2.6"/>
<line x1="80.40" y1="1812.90" x2="94.40" y2="1812.90" stroke="#b8b8b8" stroke-width="2.6"/>
<line x1="92.80" y1="1487.70" x2="779.60" y2="1487.70" stroke="#3a3a3a" stroke-width="3.2"/>
<line x1="778.00" y1="1487.70" x2="778.00" y2="1824.90" stroke="#3a3a3a" stroke-width="3.2"/>
<line x1="94.40" y1="1486.10" x2="94.40" y2="1812.90" stroke="#3a3a3a" stroke-width="3.4"/>
<line x1="92.70" y1="1812.90" x2="778.00" y2="1812.90" stroke="#333333" stroke-width="3.2"/>
<line x1="94.40" y1="1812.90" x2="94.40" y2="1824.90" stroke="#666" stroke-width="3"/>
<line x1="265.30" y1="1799.90" x2="265.30" y2="1824.90" stroke="#666" stroke-width="3"/>
<line x1="436.20" y1="1799.90" x2="436.20" y2="1824.90" stroke="#666" stroke-width="3"/>
<line x1="607.10" y1="1799.90" x2="607.10" y2="1824.90" stroke="#666" stroke-width="3"/>
<line x1="778.00" y1="1812.90" x2="778.00" y2="1824.90" stroke="#666" stroke-width="3"/>
<text transform="scale(0.97740,1)" x="22.60 49.73 70.41 80.14 88.63 111.88 121.62 130.84 147.28 165.76 182.22 200.65" y="1468.30" font-size="35.03" font-weight="normal" fill="#000" stroke="#000" stroke-width="0.512">No. of cases</text>
<text transform="scale(0.86409,1)" x="449.15 478.17 506.39 519.11 531.60 556.82 587.17 614.96" y="1478.00" font-size="45.79" font-weight="bold" fill="#000">10. LRSV</text>
<text transform="scale(0.95507,1)" x="19.80 40.38" y="1524.64" font-size="36.92" font-weight="normal" fill="#000" stroke="#000" stroke-width="0.524">12</text>
<text transform="scale(1.05662,1)" x="36.08" y="1675.12" font-size="36.92" font-weight="normal" fill="#000" stroke="#000" stroke-width="0.473">6</text>
<text transform="scale(1.05392,1)" x="35.94" y="1825.60" font-size="36.92" font-weight="normal" fill="#000" stroke="#000" stroke-width="0.474">0</text>
<text transform="scale(0.95590,1)" x="103.24" y="1876.90" font-size="38.95" font-weight="normal" fill="#000" stroke="#000" stroke-width="0.523">0</text>
<text transform="scale(0.99586,1)" x="269.89" y="1876.90" font-size="38.95" font-weight="normal" fill="#000" stroke="#000" stroke-width="0.502">6</text>
<text transform="scale(0.89738,1)" x="480.26 501.97" y="1876.90" font-size="38.95" font-weight="normal" fill="#000" stroke="#000" stroke-width="0.557">12</text>
<text transform="scale(0.92553,1)" x="650.00 671.78" y="1876.90" font-size="38.95" font-weight="normal" fill="#000" stroke="#000" stroke-width="0.540">18</text>
<text transform="scale(0.97705,1)" x="658.77 680.16 696.83 713.22 722.13 730.02 738.30 756.78 772.27 790.97" y="1875.90" font-size="26.74" font-weight="normal" fill="#000" stroke="#000" stroke-width="0.768">Hour (UTC)</text></g>
<g id="p11"><rect x="1040.58" y="1787.62" width="7.60" height="25.08" fill="#0569BF"/>
<rect x="1069.07" y="1787.62" width="7.60" height="25.08" fill="#0569BF"/>
<rect x="1126.03" y="1787.62" width="7.60" height="25.08" fill="#0569BF"/>
<rect x="1154.52" y="1787.62" width="7.60" height="25.08" fill="#0569BF"/>
<rect x="1239.97" y="1787.62" width="7.60" height="25.08" fill="#0569BF"/>
<rect x="1269.35" y="1762.54" width="5.80" height="50.16" fill="#0569BF"/>
<rect x="1296.93" y="1787.62" width="7.60" height="25.08" fill="#0569BF"/>
<rect x="1325.42" y="1787.62" width="7.60" height="25.08" fill="#0569BF"/>
<rect x="1353.90" y="1787.62" width="7.60" height="25.08" fill="#0569BF"/>
<rect x="1382.38" y="1787.62" width="7.60" height="25.08" fill="#0569BF"/>
<rect x="1439.35" y="1787.62" width="7.60" height="25.08" fill="#0569BF"/>
<rect x="1467.83" y="1787.62" width="7.60" height="25.08" fill="#0569BF"/>
<rect x="1553.28" y="1787.62" width="7.60" height="25.08" fill="#0569BF"/>
<rect x="1339.94" y="1787.62" width="7.60" height="25.08" fill="#FF0000"/>
<line x1="862.90" y1="1662.22" x2="889.40" y2="1662.22" stroke="#b8b8b8" stroke-width="2.6"/>
<line x1="862.90" y1="1511.74" x2="889.40" y2="1511.74" stroke="#b8b8b8" stroke-width="2.6"/>
<line x1="862.90" y1="1812.70" x2="876.90" y2="1812.70" stroke="#b8b8b8" stroke-width="2.6"/>
<line x1="875.30" y1="1487.70" x2="1562.10" y2="1487.70" stroke="#3a3a3a" stroke-width="3.2"/>
<line x1="1560.50" y1="1487.70" x2="1560.50" y2="1824.70" stroke="#b8b8b8" stroke-width="3.2"/>
<line x1="876.90" y1="1486.10" x2="876.90" y2="1812.70" stroke="#3a3a3a" stroke-width="3.4"/>
<line x1="875.20" y1="1812.70" x2="1560.50" y2="1812.70" stroke="#333333" stroke-width="3.2"/>
<line x1="876.90" y1="1812.70" x2="876.90" y2="1824.70" stroke="#666" stroke-width="3"/>
<line x1="1047.80" y1="1799.70" x2="1047.80" y2="1824.70" stroke="#666" stroke-width="3"/>
<line x1="1218.70" y1="1799.70" x2="1218.70" y2="1824.70" stroke="#666" stroke-width="3"/>
<line x1="1389.60" y1="1799.70" x2="1389.60" y2="1824.70" stroke="#666" stroke-width="3"/>
<line x1="1560.50" y1="1812.70" x2="1560.50" y2="1824.70" stroke="#666" stroke-width="3"/>
<text transform="scale(0.97740,1)" x="823.20 850.33 871.00 880.74 889.23 912.48 922.21 931.44 947.88 966.36 982.81 1001.25" y="1468.30" font-size="35.03" font-weight="normal" fill="#000" stroke="#000" stroke-width="0.512">No. of cases</text>
<text transform="scale(0.88420,1)" x="1344.12 1372.70 1400.36 1413.00 1425.23 1451.56 1483.37 1494.93" y="1479.40" font-size="45.49" font-weight="bold" fill="#000">11. LRIA</text>
<text transform="scale(0.95507,1)" x="839.11 859.69" y="1524.44" font-size="36.92" font-weight="normal" fill="#000" stroke="#000" stroke-width="0.524">12</text>
<text transform="scale(1.05662,1)" x="776.65" y="1674.92" font-size="36.92" font-weight="normal" fill="#000" stroke="#000" stroke-width="0.473">6</text>
<text transform="scale(1.05392,1)" x="778.41" y="1825.40" font-size="36.92" font-weight="normal" fill="#000" stroke="#000" stroke-width="0.474">0</text>
<text transform="scale(0.95590,1)" x="921.84" y="1876.70" font-size="38.95" font-weight="normal" fill="#000" stroke="#000" stroke-width="0.523">0</text>
<text transform="scale(0.99586,1)" x="1055.64" y="1876.70" font-size="38.95" font-weight="normal" fill="#000" stroke="#000" stroke-width="0.502">6</text>
<text transform="scale(0.89738,1)" x="1352.25 1373.96" y="1876.70" font-size="38.95" font-weight="normal" fill="#000" stroke="#000" stroke-width="0.557">12</text>
<text transform="scale(0.92553,1)" x="1495.46 1517.24" y="1876.70" font-size="38.95" font-weight="normal" fill="#000" stroke="#000" stroke-width="0.540">18</text>
<text transform="scale(0.97705,1)" x="1459.65 1481.03 1497.70 1514.10 1523.01 1530.90 1539.18 1557.66 1573.15 1591.85" y="1875.70" font-size="26.74" font-weight="normal" fill="#000" stroke="#000" stroke-width="0.768">Hour (UTC)</text></g>
<g id="p12"><rect x="1674.34" y="1787.82" width="9.49" height="25.08" fill="#0569BF"/>
<rect x="1731.31" y="1762.74" width="9.49" height="50.16" fill="#0569BF"/>
<rect x="1759.79" y="1762.74" width="9.49" height="50.16" fill="#0569BF"/>
<rect x="1788.27" y="1787.82" width="9.49" height="25.08" fill="#0569BF"/>
<rect x="1845.24" y="1787.82" width="9.49" height="25.08" fill="#0569BF"/>
<rect x="1873.72" y="1787.82" width="9.49" height="25.08" fill="#0569BF"/>
<rect x="1930.69" y="1762.74" width="9.49" height="50.16" fill="#0569BF"/>
<rect x="1959.17" y="1787.82" width="9.49" height="25.08" fill="#0569BF"/>
<rect x="2016.14" y="1762.74" width="9.49" height="50.16" fill="#0569BF"/>
<rect x="2044.62" y="1737.66" width="9.49" height="75.24" fill="#0569BF"/>
<rect x="2073.11" y="1737.66" width="9.49" height="75.24" fill="#0569BF"/>
<rect x="2101.59" y="1712.58" width="9.49" height="100.32" fill="#0569BF"/>
<rect x="2130.07" y="1712.58" width="9.49" height="100.32" fill="#0569BF"/>
<rect x="2158.56" y="1737.66" width="9.49" height="75.24" fill="#0569BF"/>
<rect x="2187.04" y="1762.74" width="9.49" height="50.16" fill="#0569BF"/>
<rect x="2215.52" y="1712.58" width="9.49" height="100.32" fill="#0569BF"/>
<rect x="2244.01" y="1762.74" width="9.49" height="50.16" fill="#0569BF"/>
<rect x="2272.49" y="1737.66" width="9.49" height="75.24" fill="#0569BF"/>
<rect x="2300.97" y="1762.74" width="9.49" height="50.16" fill="#0569BF"/>
<rect x="1721.81" y="1787.82" width="9.49" height="25.08" fill="#FF0000"/>
<rect x="1949.68" y="1787.82" width="9.49" height="25.08" fill="#FF0000"/>
<rect x="1978.16" y="1787.82" width="9.49" height="25.08" fill="#FF0000"/>
<rect x="2063.61" y="1787.82" width="9.49" height="25.08" fill="#FF0000"/>
<line x1="1646.10" y1="1662.42" x2="1672.60" y2="1662.42" stroke="#b8b8b8" stroke-width="2.6"/>
<line x1="1646.10" y1="1511.94" x2="1672.60" y2="1511.94" stroke="#8a8a8a" stroke-width="2.6"/>
<line x1="1646.10" y1="1812.90" x2="1660.10" y2="1812.90" stroke="#b8b8b8" stroke-width="2.6"/>
<line x1="1658.50" y1="1487.70" x2="2345.30" y2="1487.70" stroke="#3a3a3a" stroke-width="3.2"/>
<line x1="2343.70" y1="1487.70" x2="2343.70" y2="1824.90" stroke="#3a3a3a" stroke-width="3.2"/>
<line x1="1660.10" y1="1486.10" x2="1660.10" y2="1812.90" stroke="#8a8a8a" stroke-width="3.4"/>
<line x1="1658.40" y1="1812.90" x2="2343.70" y2="1812.90" stroke="#333333" stroke-width="3.2"/>
<line x1="1660.10" y1="1812.90" x2="1660.10" y2="1824.90" stroke="#666" stroke-width="3"/>
<line x1="1831.00" y1="1799.90" x2="1831.00" y2="1824.90" stroke="#666" stroke-width="3"/>
<line x1="2001.90" y1="1799.90" x2="2001.90" y2="1824.90" stroke="#666" stroke-width="3"/>
<line x1="2172.80" y1="1799.90" x2="2172.80" y2="1824.90" stroke="#666" stroke-width="3"/>
<line x1="2343.70" y1="1812.90" x2="2343.70" y2="1824.90" stroke="#666" stroke-width="3"/>
<text transform="scale(0.97740,1)" x="1624.51 1651.64 1672.32 1682.05 1690.54 1713.79 1723.53 1732.75 1749.19 1767.67 1784.13 1802.56" y="1468.30" font-size="35.03" font-weight="normal" fill="#000" stroke="#000" stroke-width="0.512">No. of cases</text>
<text transform="scale(0.84565,1)" x="2321.48 2351.60 2380.71 2393.43 2406.50 2431.92 2462.29 2492.63" y="1478.70" font-size="45.79" font-weight="bold" fill="#000">12. LRBC</text>
<text transform="scale(0.95507,1)" x="1659.15 1679.73" y="1524.64" font-size="36.92" font-weight="normal" fill="#000" stroke="#000" stroke-width="0.524">12</text>
<text transform="scale(1.05662,1)" x="1517.88" y="1675.12" font-size="36.92" font-weight="normal" fill="#000" stroke="#000" stroke-width="0.473">6</text>
<text transform="scale(1.05392,1)" x="1521.54" y="1825.60" font-size="36.92" font-weight="normal" fill="#000" stroke="#000" stroke-width="0.474">0</text>
<text transform="scale(0.95590,1)" x="1741.17" y="1876.90" font-size="38.95" font-weight="normal" fill="#000" stroke="#000" stroke-width="0.523">0</text>
<text transform="scale(0.99586,1)" x="1842.10" y="1876.90" font-size="38.95" font-weight="normal" fill="#000" stroke="#000" stroke-width="0.502">6</text>
<text transform="scale(0.89738,1)" x="2225.01 2246.72" y="1876.90" font-size="38.95" font-weight="normal" fill="#000" stroke="#000" stroke-width="0.557">12</text>
<text transform="scale(0.92553,1)" x="2341.67 2363.45" y="1876.90" font-size="38.95" font-weight="normal" fill="#000" stroke="#000" stroke-width="0.540">18</text>
<text transform="scale(0.97705,1)" x="2261.25 2282.63 2299.30 2315.69 2324.60 2332.50 2340.77 2359.25 2374.75 2393.44" y="1875.90" font-size="26.74" font-weight="normal" fill="#000" stroke="#000" stroke-width="0.461">Hour (UTC)</text></g>
<g id="p15"><rect x="137.62" y="2260.45" width="9.49" height="24.95" fill="#0569BF"/>
<rect x="166.11" y="2235.50" width="9.49" height="49.90" fill="#0569BF"/>
<rect x="194.59" y="2160.65" width="9.49" height="124.75" fill="#0569BF"/>
<rect x="251.56" y="2235.50" width="9.49" height="49.90" fill="#0569BF"/>
<rect x="280.04" y="2260.45" width="9.49" height="24.95" fill="#0569BF"/>
<rect x="308.52" y="2210.55" width="9.49" height="74.85" fill="#0569BF"/>
<rect x="337.01" y="2210.55" width="9.49" height="74.85" fill="#0569BF"/>
<rect x="365.49" y="2210.55" width="9.49" height="74.85" fill="#0569BF"/>
<rect x="393.98" y="2185.60" width="9.49" height="99.80" fill="#0569BF"/>
<rect x="422.46" y="2235.50" width="9.49" height="49.90" fill="#0569BF"/>
<rect x="450.94" y="2185.60" width="9.49" height="99.80" fill="#0569BF"/>
<rect x="479.43" y="2160.65" width="9.49" height="124.75" fill="#0569BF"/>
<rect x="507.91" y="2135.70" width="9.49" height="149.70" fill="#0569BF"/>
<rect x="536.39" y="2160.65" width="9.49" height="124.75" fill="#0569BF"/>
<rect x="564.88" y="2235.50" width="9.49" height="49.90" fill="#0569BF"/>
<rect x="593.36" y="2210.55" width="9.49" height="74.85" fill="#0569BF"/>
<rect x="621.84" y="2260.45" width="9.49" height="24.95" fill="#0569BF"/>
<rect x="650.33" y="2260.45" width="9.49" height="24.95" fill="#0569BF"/>
<rect x="678.81" y="2235.50" width="9.49" height="49.90" fill="#0569BF"/>
<rect x="707.29" y="2260.45" width="9.49" height="24.95" fill="#0569BF"/>
<rect x="735.77" y="2260.45" width="9.49" height="24.95" fill="#0569BF"/>
<rect x="764.26" y="2260.45" width="9.49" height="24.95" fill="#0569BF"/>
<rect x="469.93" y="2260.45" width="9.49" height="24.95" fill="#FF0000"/>
<rect x="583.86" y="2260.45" width="9.49" height="24.95" fill="#FF0000"/>
<line x1="80.90" y1="1986.00" x2="107.40" y2="1986.00" stroke="#b8b8b8" stroke-width="2.6"/>
<line x1="80.90" y1="2285.40" x2="94.90" y2="2285.40" stroke="#b8b8b8" stroke-width="2.6"/>
<line x1="93.30" y1="1959.80" x2="780.10" y2="1959.80" stroke="#595959" stroke-width="3.2"/>
<line x1="778.50" y1="1959.80" x2="778.50" y2="2297.40" stroke="#3a3a3a" stroke-width="3.2"/>
<line x1="94.90" y1="1958.20" x2="94.90" y2="2285.40" stroke="#3a3a3a" stroke-width="3.4"/>
<line x1="93.20" y1="2285.40" x2="778.50" y2="2285.40" stroke="#333333" stroke-width="3.2"/>
<line x1="94.90" y1="2285.40" x2="94.90" y2="2297.40" stroke="#666" stroke-width="3"/>
<line x1="265.80" y1="2272.40" x2="265.80" y2="2297.40" stroke="#666" stroke-width="3"/>
<line x1="436.70" y1="2272.40" x2="436.70" y2="2297.40" stroke="#666" stroke-width="3"/>
<line x1="607.60" y1="2272.40" x2="607.60" y2="2297.40" stroke="#666" stroke-width="3"/>
<line x1="778.50" y1="2285.40" x2="778.50" y2="2297.40" stroke="#666" stroke-width="3"/>
<text transform="scale(0.94599,1)" x="23.88 51.91 73.27 83.33 92.11 116.13 126.18 135.72 152.70 171.79 188.79 207.84" y="1941.50" font-size="36.19" font-weight="normal" fill="#000" stroke="#000" stroke-width="0.529">No. of cases</text>
<text transform="scale(0.84602,1)" x="443.97 474.29 503.38 515.86 529.06 554.24 584.30 614.46" y="1954.90" font-size="44.91" font-weight="bold" fill="#000">15. LRBS</text>
<text transform="scale(0.95507,1)" x="20.33 40.90" y="1998.70" font-size="36.92" font-weight="normal" fill="#000" stroke="#000" stroke-width="0.524">12</text>
<text transform="scale(1.05662,1)" x="36.55" y="2148.40" font-size="36.92" font-weight="normal" fill="#000" stroke="#000" stroke-width="0.473">6</text>
<text transform="scale(1.05392,1)" x="36.42" y="2298.10" font-size="36.92" font-weight="normal" fill="#000" stroke="#000" stroke-width="0.474">0</text>
<text transform="scale(0.97408,1)" x="101.83" y="2349.00" font-size="38.23" font-weight="normal" fill="#000" stroke="#000" stroke-width="0.513">0</text>
<text transform="scale(1.01479,1)" x="265.35" y="2349.00" font-size="38.23" font-weight="normal" fill="#000" stroke="#000" stroke-width="0.493">6</text>
<text transform="scale(0.91444,1)" x="471.85 493.15" y="2349.00" font-size="38.23" font-weight="normal" fill="#000" stroke="#000" stroke-width="0.547">12</text>
<text transform="scale(0.94313,1)" x="638.40 659.78" y="2349.00" font-size="38.23" font-weight="normal" fill="#000" stroke="#000" stroke-width="0.530">18</text>
<text transform="scale(0.97705,1)" x="659.29 680.67 697.34 713.73 722.64 730.53 738.81 757.29 772.79 791.48" y="2348.40" font-size="26.74" font-weight="normal" fill="#000" stroke="#000" stroke-width="0.768">Hour (UTC)</text></g>
<g id="p16"><rect x="919.62" y="2260.45" width="9.49" height="24.95" fill="#0569BF"/>
<rect x="948.11" y="2110.75" width="9.49" height="174.65" fill="#0569BF"/>
<rect x="976.59" y="2110.75" width="9.49" height="174.65" fill="#0569BF"/>
<rect x="1005.08" y="2185.60" width="9.49" height="99.80" fill="#0569BF"/>
<rect x="1033.56" y="2185.60" width="9.49" height="99.80" fill="#0569BF"/>
<rect x="1062.04" y="2160.65" width="9.49" height="124.75" fill="#0569BF"/>
<rect x="1090.53" y="2160.65" width="9.49" height="124.75" fill="#0569BF"/>
<rect x="1119.01" y="2185.60" width="9.49" height="99.80" fill="#0569BF"/>
<rect x="1147.49" y="2210.55" width="9.49" height="74.85" fill="#0569BF"/>
<rect x="1175.97" y="2060.85" width="9.49" height="224.55" fill="#0569BF"/>
<rect x="1204.46" y="2160.65" width="9.49" height="124.75" fill="#0569BF"/>
<rect x="1232.94" y="2185.60" width="9.49" height="99.80" fill="#0569BF"/>
<rect x="1261.42" y="2110.75" width="9.49" height="174.65" fill="#0569BF"/>
<rect x="1289.91" y="2060.85" width="9.49" height="224.55" fill="#0569BF"/>
<rect x="1318.39" y="1961.05" width="9.49" height="324.35" fill="#0569BF"/>
<rect x="1346.88" y="2160.65" width="9.49" height="124.75" fill="#0569BF"/>
<rect x="1375.36" y="2110.75" width="9.49" height="174.65" fill="#0569BF"/>
<rect x="1403.84" y="2110.75" width="9.49" height="174.65" fill="#0569BF"/>
<rect x="1432.33" y="2235.50" width="9.49" height="49.90" fill="#0569BF"/>
<rect x="1460.81" y="2235.50" width="9.49" height="49.90" fill="#0569BF"/>
<rect x="1489.29" y="2235.50" width="9.49" height="49.90" fill="#0569BF"/>
<rect x="1517.78" y="2260.45" width="9.49" height="24.95" fill="#0569BF"/>
<rect x="1546.26" y="2185.60" width="9.49" height="99.80" fill="#0569BF"/>
<rect x="1223.45" y="2260.45" width="9.49" height="24.95" fill="#FF0000"/>
<rect x="1365.86" y="2260.45" width="9.49" height="24.95" fill="#FF0000"/>
<line x1="862.90" y1="1986.00" x2="889.40" y2="1986.00" stroke="#8a8a8a" stroke-width="2.6"/>
<line x1="862.90" y1="2285.40" x2="876.90" y2="2285.40" stroke="#b8b8b8" stroke-width="2.6"/>
<line x1="875.30" y1="1959.80" x2="1562.10" y2="1959.80" stroke="#595959" stroke-width="3.2"/>
<line x1="1560.50" y1="1959.80" x2="1560.50" y2="2297.40" stroke="#b8b8b8" stroke-width="3.2"/>
<line x1="876.90" y1="1958.20" x2="876.90" y2="2285.40" stroke="#3a3a3a" stroke-width="3.4"/>
<line x1="875.20" y1="2285.40" x2="1560.50" y2="2285.40" stroke="#333333" stroke-width="3.2"/>
<line x1="876.90" y1="2285.40" x2="876.90" y2="2297.40" stroke="#666" stroke-width="3"/>
<line x1="1047.80" y1="2272.40" x2="1047.80" y2="2297.40" stroke="#666" stroke-width="3"/>
<line x1="1218.70" y1="2272.40" x2="1218.70" y2="2297.40" stroke="#666" stroke-width="3"/>
<line x1="1389.60" y1="2272.40" x2="1389.60" y2="2297.40" stroke="#666" stroke-width="3"/>
<line x1="1560.50" y1="2285.40" x2="1560.50" y2="2297.40" stroke="#666" stroke-width="3"/>
<text transform="scale(0.94599,1)" x="850.53 878.55 899.92 909.97 918.75 942.77 952.83 962.36 979.34 998.44 1015.44 1034.49" y="1941.50" font-size="36.19" font-weight="normal" fill="#000" stroke="#000" stroke-width="0.529">No. of cases</text>
<text transform="scale(0.89880,1)" x="1296.66 1324.84 1352.33 1364.89 1376.98 1402.42 1432.72 1465.49" y="1953.30" font-size="45.20" font-weight="bold" fill="#000">16. LROP</text>
<text transform="scale(0.95507,1)" x="839.11 859.69" y="1998.70" font-size="36.92" font-weight="normal" fill="#000" stroke="#000" stroke-width="0.524">12</text>
<text transform="scale(1.05662,1)" x="776.65" y="2148.40" font-size="36.92" font-weight="normal" fill="#000" stroke="#000" stroke-width="0.473">6</text>
<text transform="scale(1.05392,1)" x="778.41" y="2298.10" font-size="36.92" font-weight="normal" fill="#000" stroke="#000" stroke-width="0.474">0</text>
<text transform="scale(0.97408,1)" x="904.64" y="2349.00" font-size="38.23" font-weight="normal" fill="#000" stroke="#000" stroke-width="0.513">0</text>
<text transform="scale(1.01479,1)" x="1035.95" y="2349.00" font-size="38.23" font-weight="normal" fill="#000" stroke="#000" stroke-width="0.493">6</text>
<text transform="scale(0.91444,1)" x="1327.02 1348.32" y="2349.00" font-size="38.23" font-weight="normal" fill="#000" stroke="#000" stroke-width="0.547">12</text>
<text transform="scale(0.94313,1)" x="1467.56 1488.93" y="2349.00" font-size="38.23" font-weight="normal" fill="#000" stroke="#000" stroke-width="0.530">18</text>
<text transform="scale(0.97705,1)" x="1459.65 1481.03 1497.70 1514.10 1523.01 1530.90 1539.18 1557.66 1573.15 1591.85" y="2348.40" font-size="26.74" font-weight="normal" fill="#000" stroke="#000" stroke-width="0.768">Hour (UTC)</text></g>
<g id="p17"><rect x="1664.85" y="2260.45" width="9.49" height="24.95" fill="#416FC3"/>
<rect x="1721.81" y="2235.50" width="9.49" height="49.90" fill="#416FC3"/>
<rect x="1778.78" y="2260.45" width="9.49" height="24.95" fill="#416FC3"/>
<rect x="1835.75" y="2260.45" width="9.49" height="24.95" fill="#416FC3"/>
<rect x="1864.23" y="2260.45" width="9.49" height="24.95" fill="#416FC3"/>
<rect x="1892.71" y="2210.55" width="9.49" height="74.85" fill="#416FC3"/>
<rect x="1921.20" y="2235.50" width="9.49" height="49.90" fill="#416FC3"/>
<rect x="1949.68" y="2260.45" width="9.49" height="24.95" fill="#416FC3"/>
<rect x="1978.16" y="2210.55" width="9.49" height="74.85" fill="#416FC3"/>
<rect x="2006.65" y="2235.50" width="9.49" height="49.90" fill="#416FC3"/>
<rect x="2035.13" y="2260.45" width="9.49" height="24.95" fill="#416FC3"/>
<rect x="2092.10" y="2260.45" width="9.49" height="24.95" fill="#416FC3"/>
<rect x="2120.58" y="2235.50" width="9.49" height="49.90" fill="#416FC3"/>
<rect x="2149.06" y="2210.55" width="9.49" height="74.85" fill="#416FC3"/>
<rect x="2177.55" y="2185.60" width="9.49" height="99.80" fill="#416FC3"/>
<rect x="2206.03" y="2160.65" width="9.49" height="124.75" fill="#416FC3"/>
<rect x="2234.51" y="2235.50" width="9.49" height="49.90" fill="#416FC3"/>
<rect x="2263.00" y="2185.60" width="9.49" height="99.80" fill="#416FC3"/>
<rect x="2291.48" y="2185.60" width="9.49" height="99.80" fill="#416FC3"/>
<rect x="2319.96" y="2185.60" width="9.49" height="99.80" fill="#416FC3"/>
<rect x="1987.66" y="2260.45" width="9.49" height="24.95" fill="#FF0000"/>
<rect x="2016.14" y="2260.45" width="9.49" height="24.95" fill="#FF0000"/>
<rect x="2044.62" y="2260.45" width="9.49" height="24.95" fill="#FF0000"/>
<line x1="1646.10" y1="1986.00" x2="1672.60" y2="1986.00" stroke="#8a8a8a" stroke-width="2.6"/>
<line x1="1646.10" y1="2285.40" x2="1660.10" y2="2285.40" stroke="#b8b8b8" stroke-width="2.6"/>
<line x1="1658.50" y1="1959.80" x2="2345.30" y2="1959.80" stroke="#8a8a8a" stroke-width="3.2"/>
<line x1="2343.70" y1="1959.80" x2="2343.70" y2="2297.40" stroke="#3a3a3a" stroke-width="3.2"/>
<line x1="1660.10" y1="1958.20" x2="1660.10" y2="2285.40" stroke="#8a8a8a" stroke-width="3.4"/>
<line x1="1658.40" y1="2285.40" x2="2343.70" y2="2285.40" stroke="#333333" stroke-width="3.2"/>
<line x1="1660.10" y1="2285.40" x2="1660.10" y2="2297.40" stroke="#666" stroke-width="3"/>
<line x1="1831.00" y1="2272.40" x2="1831.00" y2="2297.40" stroke="#666" stroke-width="3"/>
<line x1="2001.90" y1="2272.40" x2="2001.90" y2="2297.40" stroke="#666" stroke-width="3"/>
<line x1="2172.80" y1="2272.40" x2="2172.80" y2="2297.40" stroke="#666" stroke-width="3"/>
<line x1="2343.70" y1="2285.40" x2="2343.70" y2="2297.40" stroke="#666" stroke-width="3"/>
<text transform="scale(0.94599,1)" x="1678.44 1706.47 1727.83 1737.89 1746.66 1770.68 1780.74 1790.27 1807.26 1826.35 1843.35 1862.40" y="1941.50" font-size="36.19" font-weight="normal" fill="#000" stroke="#000" stroke-width="0.529">No. of cases</text>
<text transform="scale(0.89014,1)" x="2195.03 2223.47 2251.16 2263.68 2275.91 2300.88 2330.74 2360.67" y="1949.80" font-size="45.06" font-weight="bold" fill="#000">17. LRCV</text>
<text transform="scale(0.95507,1)" x="1659.15 1679.73" y="1998.70" font-size="36.92" font-weight="normal" fill="#000" stroke="#000" stroke-width="0.524">12</text>
<text transform="scale(1.05662,1)" x="1517.88" y="2148.40" font-size="36.92" font-weight="normal" fill="#000" stroke="#000" stroke-width="0.473">6</text>
<text transform="scale(1.05392,1)" x="1521.54" y="2298.10" font-size="36.92" font-weight="normal" fill="#000" stroke="#000" stroke-width="0.474">0</text>
<text transform="scale(0.97408,1)" x="1708.68" y="2349.00" font-size="38.23" font-weight="normal" fill="#000" stroke="#000" stroke-width="0.513">0</text>
<text transform="scale(1.01479,1)" x="1807.73" y="2349.00" font-size="38.23" font-weight="normal" fill="#000" stroke="#000" stroke-width="0.493">6</text>
<text transform="scale(0.91444,1)" x="2183.50 2204.80" y="2349.00" font-size="38.23" font-weight="normal" fill="#000" stroke="#000" stroke-width="0.547">12</text>
<text transform="scale(0.94313,1)" x="2297.98 2319.36" y="2349.00" font-size="38.23" font-weight="normal" fill="#000" stroke="#000" stroke-width="0.530">18</text>
<text transform="scale(0.97705,1)" x="2261.25 2282.63 2299.30 2315.69 2324.60 2332.50 2340.77 2359.25 2374.75 2393.44" y="2348.40" font-size="26.74" font-weight="normal" fill="#000" stroke="#000" stroke-width="0.461">Hour (UTC)</text></g>
<g id="p13"><rect x="109.14" y="2682.90" width="9.49" height="74.70" fill="#416FC3"/>
<rect x="137.62" y="2558.40" width="9.49" height="199.20" fill="#416FC3"/>
<rect x="166.11" y="2508.60" width="9.49" height="249.00" fill="#416FC3"/>
<rect x="194.59" y="2558.40" width="9.49" height="199.20" fill="#416FC3"/>
<rect x="223.08" y="2508.60" width="9.49" height="249.00" fill="#416FC3"/>
<rect x="251.56" y="2658.00" width="9.49" height="99.60" fill="#416FC3"/>
<rect x="280.04" y="2732.70" width="9.49" height="24.90" fill="#416FC3"/>
<rect x="308.52" y="2707.80" width="9.49" height="49.80" fill="#416FC3"/>
<rect x="337.01" y="2732.70" width="9.49" height="24.90" fill="#416FC3"/>
<rect x="479.43" y="2732.70" width="9.49" height="24.90" fill="#416FC3"/>
<rect x="507.91" y="2732.70" width="9.49" height="24.90" fill="#416FC3"/>
<rect x="536.39" y="2682.90" width="9.49" height="74.70" fill="#416FC3"/>
<rect x="564.88" y="2707.80" width="9.49" height="49.80" fill="#416FC3"/>
<rect x="593.36" y="2633.10" width="9.49" height="124.50" fill="#416FC3"/>
<rect x="621.84" y="2583.30" width="9.49" height="174.30" fill="#416FC3"/>
<rect x="650.33" y="2707.80" width="9.49" height="49.80" fill="#416FC3"/>
<rect x="678.81" y="2633.10" width="9.49" height="124.50" fill="#416FC3"/>
<rect x="707.29" y="2633.10" width="9.49" height="124.50" fill="#416FC3"/>
<rect x="735.77" y="2633.10" width="9.49" height="124.50" fill="#416FC3"/>
<rect x="764.26" y="2458.80" width="9.49" height="298.80" fill="#416FC3"/>
<rect x="555.38" y="2732.70" width="9.49" height="24.90" fill="#FF0000"/>
<line x1="80.90" y1="2608.20" x2="107.40" y2="2608.20" stroke="#b8b8b8" stroke-width="2.6"/>
<line x1="80.90" y1="2458.80" x2="107.40" y2="2458.80" stroke="#b8b8b8" stroke-width="2.6"/>
<line x1="80.90" y1="2757.60" x2="94.90" y2="2757.60" stroke="#b8b8b8" stroke-width="2.6"/>
<line x1="93.30" y1="2432.40" x2="780.10" y2="2432.40" stroke="#8a8a8a" stroke-width="3.2"/>
<line x1="778.50" y1="2432.40" x2="778.50" y2="2769.60" stroke="#3a3a3a" stroke-width="3.2"/>
<line x1="94.90" y1="2430.80" x2="94.90" y2="2757.60" stroke="#3a3a3a" stroke-width="3.4"/>
<line x1="93.20" y1="2757.60" x2="778.50" y2="2757.60" stroke="#333333" stroke-width="3.2"/>
<line x1="94.90" y1="2757.60" x2="94.90" y2="2769.60" stroke="#666" stroke-width="3"/>
<line x1="265.80" y1="2744.60" x2="265.80" y2="2769.60" stroke="#666" stroke-width="3"/>
<line x1="436.70" y1="2744.60" x2="436.70" y2="2769.60" stroke="#666" stroke-width="3"/>
<line x1="607.60" y1="2744.60" x2="607.60" y2="2769.60" stroke="#666" stroke-width="3"/>
<line x1="778.50" y1="2757.60" x2="778.50" y2="2769.60" stroke="#666" stroke-width="3"/>
<text transform="scale(0.97336,1)" x="23.21 50.45 71.21 80.99 89.52 112.86 122.63 131.90 148.41 166.96 183.49 202.00" y="2414.20" font-size="35.18" font-weight="normal" fill="#000" stroke="#000" stroke-width="0.514">No. of cases</text>
<text transform="scale(0.86709,1)" x="446.42 475.26 503.23 515.51 528.02 552.66 582.31 606.95" y="2422.60" font-size="44.19" font-weight="bold" fill="#000">13. LRTC</text>
<text transform="scale(0.95507,1)" x="20.33 40.90" y="2471.50" font-size="36.92" font-weight="normal" fill="#000" stroke="#000" stroke-width="0.524">12</text>
<text transform="scale(1.05662,1)" x="36.55" y="2620.90" font-size="36.92" font-weight="normal" fill="#000" stroke="#000" stroke-width="0.473">6</text>
<text transform="scale(1.05392,1)" x="36.42" y="2770.30" font-size="36.92" font-weight="normal" fill="#000" stroke="#000" stroke-width="0.474">0</text>
<text transform="scale(0.97408,1)" x="101.83" y="2821.20" font-size="38.23" font-weight="normal" fill="#000" stroke="#000" stroke-width="0.513">0</text>
<text transform="scale(1.01479,1)" x="265.35" y="2821.20" font-size="38.23" font-weight="normal" fill="#000" stroke="#000" stroke-width="0.493">6</text>
<text transform="scale(0.91444,1)" x="471.85 493.15" y="2821.20" font-size="38.23" font-weight="normal" fill="#000" stroke="#000" stroke-width="0.547">12</text>
<text transform="scale(0.94313,1)" x="638.40 659.78" y="2821.20" font-size="38.23" font-weight="normal" fill="#000" stroke="#000" stroke-width="0.530">18</text>
<text transform="scale(0.97705,1)" x="659.29 680.67 697.34 713.73 722.64 730.53 738.81 757.29 772.79 791.48" y="2820.60" font-size="26.74" font-weight="normal" fill="#000" stroke="#000" stroke-width="0.768">Hour (UTC)</text></g>
<g id="p14"><rect x="919.62" y="2707.80" width="9.49" height="49.80" fill="#0569BF"/>
<rect x="976.59" y="2707.80" width="9.49" height="49.80" fill="#0569BF"/>
<rect x="1232.94" y="2732.70" width="9.49" height="24.90" fill="#0569BF"/>
<rect x="1318.39" y="2732.70" width="9.49" height="24.90" fill="#0569BF"/>
<rect x="1403.84" y="2732.70" width="9.49" height="24.90" fill="#0569BF"/>
<rect x="1489.29" y="2707.80" width="9.49" height="49.80" fill="#0569BF"/>
<rect x="1517.78" y="2732.70" width="9.49" height="24.90" fill="#0569BF"/>
<rect x="1546.26" y="2732.70" width="9.49" height="24.90" fill="#0569BF"/>
<rect x="1138.00" y="2732.70" width="9.49" height="24.90" fill="#FF0000"/>
<rect x="1337.38" y="2732.70" width="9.49" height="24.90" fill="#FF0000"/>
<line x1="862.90" y1="2608.20" x2="889.40" y2="2608.20" stroke="#b8b8b8" stroke-width="2.6"/>
<line x1="862.90" y1="2458.80" x2="889.40" y2="2458.80" stroke="#b8b8b8" stroke-width="2.6"/>
<line x1="862.90" y1="2757.60" x2="876.90" y2="2757.60" stroke="#b8b8b8" stroke-width="2.6"/>
<line x1="875.30" y1="2432.40" x2="1562.10" y2="2432.40" stroke="#8a8a8a" stroke-width="3.2"/>
<line x1="1560.50" y1="2432.40" x2="1560.50" y2="2769.60" stroke="#b8b8b8" stroke-width="3.2"/>
<line x1="876.90" y1="2430.80" x2="876.90" y2="2757.60" stroke="#3a3a3a" stroke-width="3.4"/>
<line x1="875.20" y1="2757.60" x2="1560.50" y2="2757.60" stroke="#333333" stroke-width="3.2"/>
<line x1="876.90" y1="2757.60" x2="876.90" y2="2769.60" stroke="#666" stroke-width="3"/>
<line x1="1047.80" y1="2744.60" x2="1047.80" y2="2769.60" stroke="#666" stroke-width="3"/>
<line x1="1218.70" y1="2744.60" x2="1218.70" y2="2769.60" stroke="#666" stroke-width="3"/>
<line x1="1389.60" y1="2744.60" x2="1389.60" y2="2769.60" stroke="#666" stroke-width="3"/>
<line x1="1560.50" y1="2757.60" x2="1560.50" y2="2769.60" stroke="#666" stroke-width="3"/>
<text transform="scale(0.97336,1)" x="826.62 853.86 874.62 884.39 892.92 916.27 926.04 935.31 951.81 970.37 986.89 1005.41" y="2414.20" font-size="35.18" font-weight="normal" fill="#000" stroke="#000" stroke-width="0.514">No. of cases</text>
<text transform="scale(0.87398,1)" x="1337.06 1366.18 1394.19 1406.46 1419.07 1443.26 1472.22 1501.03" y="2422.60" font-size="44.19" font-weight="bold" fill="#000">14. LRCK</text>
<text transform="scale(0.95507,1)" x="839.11 859.69" y="2471.50" font-size="36.92" font-weight="normal" fill="#000" stroke="#000" stroke-width="0.524">12</text>
<text transform="scale(1.05662,1)" x="776.65" y="2620.90" font-size="36.92" font-weight="normal" fill="#000" stroke="#000" stroke-width="0.473">6</text>
<text transform="scale(1.05392,1)" x="778.41" y="2770.30" font-size="36.92" font-weight="normal" fill="#000" stroke="#000" stroke-width="0.474">0</text>
<text transform="scale(0.97408,1)" x="904.64" y="2821.20" font-size="38.23" font-weight="normal" fill="#000" stroke="#000" stroke-width="0.513">0</text>
<text transform="scale(1.01479,1)" x="1035.95" y="2821.20" font-size="38.23" font-weight="normal" fill="#000" stroke="#000" stroke-width="0.493">6</text>
<text transform="scale(0.91444,1)" x="1327.02 1348.32" y="2821.20" font-size="38.23" font-weight="normal" fill="#000" stroke="#000" stroke-width="0.547">12</text>
<text transform="scale(0.94313,1)" x="1467.56 1488.93" y="2821.20" font-size="38.23" font-weight="normal" fill="#000" stroke="#000" stroke-width="0.530">18</text>
<text transform="scale(0.97705,1)" x="1459.65 1481.03 1497.70 1514.10 1523.01 1530.90 1539.18 1557.66 1573.15 1591.85" y="2820.60" font-size="26.74" font-weight="normal" fill="#000" stroke="#000" stroke-width="0.768">Hour (UTC)</text></g>
<rect x="2008" y="2072" width="11.5" height="11.5" fill="#416FC3"/>
<text transform="scale(0.85488,1)" x="2369.11 2381.23 2395.07" y="2084.20" font-size="21.37" font-weight="normal" fill="#3c3c3c">+SH</text>
<rect x="2008" y="2109.2" width="11.5" height="12" fill="#FF0000"/>
<text transform="scale(0.93447,1)" x="2166.76 2181.99" y="2122.50" font-size="19.62" font-weight="normal" fill="#3c3c3c">GR</text>
<text transform="scale(0.95811,1)" x="2035.96 2067.31 2098.64 2129.93 2161.24 2192.57" y="2483.70" font-size="57.70" font-weight="normal" fill="#000" stroke="#000" stroke-width="0.522">Legend</text>
<rect x="1953.5" y="2532.9" width="32" height="31" fill="#416FC3"/>
<text transform="scale(0.93589,1)" x="2135.56 2164.73 2198.07" y="2564.00" font-size="51.45" font-weight="normal" fill="#000" stroke="#000" stroke-width="0.534">+SH</text>
<rect x="1952.6" y="2635.6" width="32.8" height="31" fill="#FF0000"/>
<text transform="scale(0.87618,1)" x="2281.06 2323.02" y="2667.60" font-size="54.07" font-weight="normal" fill="#000" stroke="#000" stroke-width="0.571">GR</text>
</svg>
</body></html>
